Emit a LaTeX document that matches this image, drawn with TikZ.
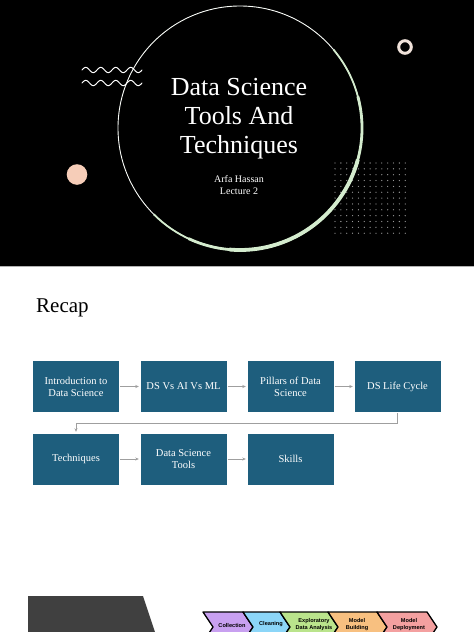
\documentclass[tikz,border=0pt]{standalone}
\usepackage{fontspec}
\setmainfont{Liberation Serif}
\newfontfamily\chevfont{Liberation Sans}
\usetikzlibrary{arrows.meta}
\definecolor{boxblue}{RGB}{30,94,125}
\definecolor{ringgreen}{RGB}{212,236,206}
\definecolor{peach}{RGB}{246,205,184}
\definecolor{ringpeach}{RGB}{240,226,218}
\definecolor{slidegray}{RGB}{64,64,64}
\definecolor{chpurple}{RGB}{200,160,240}
\definecolor{chblue}{RGB}{140,214,248}
\definecolor{chgreen}{RGB}{186,228,140}
\definecolor{chorange}{RGB}{248,192,128}
\definecolor{chpink}{RGB}{244,160,160}
\tikzset{
  recapbox/.style={fill=boxblue, text=white, minimum width=86pt, minimum height=51pt,
    inner sep=1pt, align=center, font=\fontsize{10.5}{12}\selectfont},
  flowarrow/.style={draw=gray!75, line width=0.6pt, -{Stealth[length=3.5pt,width=3pt]}, shorten >=1.5pt, shorten <=1pt},
  chevron/.style={draw=black, line width=1.3pt, line join=round},
  chevlabel/.style={font=\chevfont\bfseries\fontsize{5.6}{6.2}\selectfont, align=center, inner sep=0pt},
}
\begin{document}
\begin{tikzpicture}[x=1pt,y=-1pt]
\useasboundingbox (0,0) rectangle (474,632);
\fill[white] (0,0) rectangle (474,632);
% ---------- slide 1 ----------
\fill[black] (0,0) rectangle (474,266);
\draw[gray!60, line width=0.6pt] (0,266.3) -- (474,266.3);
% dots grid
\foreach \i in {0,...,12}{
  \foreach \j in {0,...,12}{
    \fill[gray!80] ({335+\i*5.85},{163+\j*5.85}) circle (0.65pt);
  }
}
% big circle
\draw[white!85!ringgreen, line width=0.9pt] (240,128) circle (122pt);
\draw[ringgreen, line width=1.8pt] (240,128) ++(40:122pt) arc[start angle=40, end angle=-135, radius=122pt];
\draw[ringgreen, line width=2.8pt] (240,128) ++(15:122pt) arc[start angle=15, end angle=-115, radius=122pt];
\draw[ringgreen, line width=3.8pt] (240,128) ++(-15:122pt) arc[start angle=-15, end angle=-95, radius=122pt];
% waves
\draw[white, line width=1pt, line cap=round] plot[domain=82:142, samples=90] (\x,{70-2.6*sin((\x-82)*24)});
\draw[white, line width=1pt, line cap=round] plot[domain=82:142, samples=90] (\x,{83-2.6*sin((\x-82)*24)});
% peach dot and ring
\fill[peach] (77,174.5) circle (10.3pt);
\draw[ringpeach, line width=3pt] (405,47) circle (6.3pt);
% title
\node[text=white, align=center, font=\fontsize{26}{29}\selectfont] (title) at (239,118.5) {Data Science\\Tools And\\Techniques};
\node[text=white, align=center, font=\fontsize{10}{11.5}\selectfont] (author) at (239,185) {Arfa Hassan\\Lecture 2};
% ---------- slide 2 ----------
\node[anchor=west, font=\fontsize{21}{24}\selectfont, inner sep=0pt] (recap) at (36,308) {Recap};
\node[recapbox] (b1) at (76,386.5) {Introduction to\\Data Science};
\node[recapbox] (b2) at (183.5,386.5) {DS Vs AI Vs ML};
\node[recapbox] (b3) at (290.5,386.5) {Pillars of Data\\Science};
\node[recapbox] (b4) at (397.5,386.5) {DS Life Cycle};
\node[recapbox] (b5) at (76,459) {Techniques};
\node[recapbox] (b6) at (183.5,459) {Data Science\\Tools};
\node[recapbox] (b7) at (290.5,459) {Skills};
\draw[flowarrow] (b1) -- (b2);
\draw[flowarrow] (b2) -- (b3);
\draw[flowarrow] (b3) -- (b4);
\draw[flowarrow] (b4.south) -- ++(0,11) -| (b5.north);
\draw[flowarrow] (b5) -- (b6);
\draw[flowarrow] (b6) -- (b7);
% ---------- slide 3 ----------
\fill[slidegray] (28,596) -- (143,596) -- (155,632) -- (28,632) -- cycle;
\def\ct{612}\def\cm{627}\def\cb{642}
\filldraw[chevron, fill=chpurple] (203,\ct) -- (243,\ct) -- (253,\cm) -- (243,\cb) -- (203,\cb) -- (213,\cm) -- cycle;
\filldraw[chevron, fill=chblue] (243,\ct) -- (280,\ct) -- (290,\cm) -- (280,\cb) -- (243,\cb) -- (253,\cm) -- cycle;
\filldraw[chevron, fill=chgreen] (280,\ct) -- (328,\ct) -- (338,\cm) -- (328,\cb) -- (280,\cb) -- (290,\cm) -- cycle;
\filldraw[chevron, fill=chorange] (328,\ct) -- (377,\ct) -- (387,\cm) -- (377,\cb) -- (328,\cb) -- (338,\cm) -- cycle;
\filldraw[chevron, fill=chpink] (377,\ct) -- (427,\ct) -- (437,\cm) -- (427,\cb) -- (377,\cb) -- (387,\cm) -- cycle;
\node[chevlabel] (c1) at (232,625.5) {Collection};
\node[chevlabel] (c2) at (271,624.5) {Cleaning};
\node[chevlabel] (c3) at (314,624.5) {Exploratory\\Data Analysis};
\node[chevlabel] (c4) at (357,624.5) {Model\\Building};
\node[chevlabel] (c5) at (409,624.5) {Model\\Deployment};
\end{tikzpicture}
\end{document}
